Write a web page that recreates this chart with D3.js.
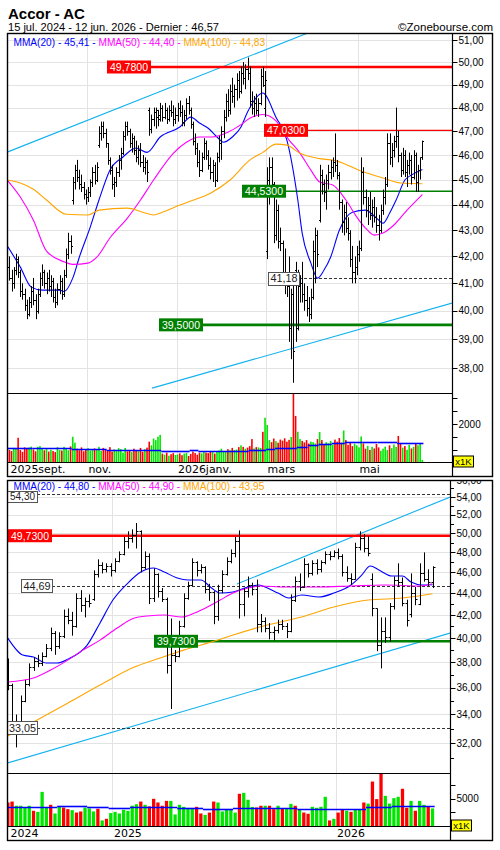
<!DOCTYPE html>
<html><head><meta charset="utf-8"><title>Accor - AC</title>
<script src="https://cdn.jsdelivr.net/npm/d3@7/dist/d3.min.js"></script>
<style>html,body{margin:0;padding:0;background:#fff}svg{display:block}</style>
</head><body>
<svg id="chart" width="500" height="850" xmlns="http://www.w3.org/2000/svg"></svg>
<script>
// ====================== DATA ======================
const title = "Accor - AC";
const subtitle = "15 jul. 2024 - 12 jun. 2026 - Dernier : 46,57";
const credit = "\u00A9Zonebourse.com";
const maNames = ["MMA(20)", "MMA(50)", "MMA(100)"];

// ---- Daily panel (top) : [open, high, low, close] ----
const dailyBars = [
[41.4,41.9,41.0,41.6],[41.6,42.0,41.1,41.2],[41.2,41.5,40.7,41.0],[41.0,41.6,40.8,41.5],[41.5,42.1,41.3,41.9],[41.9,42.0,41.2,41.4],[41.4,41.5,40.5,40.7],[40.7,41.0,40.4,40.6],[40.6,40.8,40.0,40.2],[40.2,40.4,39.7,39.9],
[39.9,40.5,39.8,40.3],[40.3,40.9,40.1,40.7],[40.7,41.2,40.2,40.4],[40.4,40.6,39.7,40.0],[40.0,40.8,39.9,40.6],[40.6,41.4,40.5,41.2],[41.2,41.7,40.9,41.4],[41.4,41.5,40.8,41.0],[41.0,41.4,40.6,41.2],[41.2,41.5,40.7,40.9],
[40.9,41.3,40.5,41.1],[41.1,41.2,40.3,40.5],[40.5,40.8,40.1,40.3],[40.3,41.0,40.2,40.8],[40.8,41.3,40.6,41.1],[41.1,41.2,40.4,40.6],[40.6,41.5,40.5,41.3],[41.3,42.3,41.2,42.1],[42.1,42.9,41.9,42.6],[42.6,42.8,42.1,42.4],
[44.2,45.1,44.0,44.9],[44.9,45.6,44.6,45.4],[45.4,45.8,44.9,45.1],[45.1,45.4,44.6,44.8],[44.8,45.2,44.5,44.7],[44.7,44.9,44.2,44.4],[44.4,44.6,44.0,44.3],[44.3,44.7,44.1,44.5],[44.5,45.0,44.3,44.9],[44.9,45.5,44.7,45.3],
[45.3,45.6,44.8,45.0],[45.0,45.7,44.9,45.5],[46.4,47.2,46.3,46.9],[46.9,47.4,46.6,47.2],[47.2,47.4,46.7,46.9],[46.9,47.1,46.3,46.5],[46.5,46.5,45.6,45.8],[45.8,45.9,45.2,45.4],[45.4,45.6,44.6,44.8],[44.8,45.1,44.3,44.9],
[44.9,45.5,44.7,45.3],[45.3,46.0,45.1,45.8],[45.8,46.3,45.4,46.1],[46.1,47.0,46.0,46.8],[46.8,47.4,46.6,47.2],[47.2,47.4,46.8,47.0],[47.0,47.1,46.3,46.5],[46.5,46.9,46.1,46.7],[46.7,46.8,46.0,46.2],[46.2,46.6,45.7,45.9],
[45.9,46.4,45.6,46.2],[46.2,46.5,45.5,45.7],[45.7,46.0,45.3,45.5],[45.5,45.9,45.2,45.7],[45.7,45.8,44.9,45.3],[47.9,48.0,46.8,47.1],[47.1,47.7,46.9,47.5],[47.5,48.0,47.2,47.8],[47.8,48.0,47.1,47.9],[47.6,47.9,47.2,47.7],
[47.5,48.2,47.4,48.0],[48.0,48.1,47.4,47.6],[47.6,48.2,47.5,47.9],[47.9,48.0,47.3,47.5],[47.5,48.1,47.4,47.9],[47.9,48.3,47.6,47.8],[47.8,48.1,47.2,47.5],[47.5,48.0,47.3,47.7],[47.7,48.2,47.4,48.0],[48.0,48.3,47.6,47.8],
[47.8,48.1,47.2,47.4],[47.4,47.9,47.2,47.7],[47.7,48.4,47.5,48.2],[48.2,48.5,47.7,47.9],[47.9,48.0,47.1,47.3],[47.3,47.4,46.4,46.6],[46.6,46.9,46.0,46.3],[46.3,46.5,45.5,45.7],[45.7,46.2,45.1,45.4],[45.4,46.1,45.3,45.9],
[45.9,46.7,45.8,46.5],[46.5,46.6,45.8,46.0],[46.0,46.2,45.4,45.6],[45.6,45.9,45.0,45.3],[45.3,45.8,44.9,45.6],[45.6,45.7,44.7,45.0],[45.0,46.1,44.9,45.9],[45.9,46.8,45.7,46.5],[46.5,47.2,45.8,47.0],[47.0,47.9,46.7,47.6],
[47.6,48.6,47.4,48.3],[48.3,48.8,47.6,47.9],[47.9,49.0,47.7,48.7],[48.7,49.3,48.2,48.5],[48.5,49.0,48.0,48.8],[48.8,49.5,48.3,49.2],[49.2,49.6,48.4,48.7],[48.7,49.8,48.6,49.5],[49.5,50.0,49.0,49.3],[49.3,49.9,48.8,49.7],
[49.7,50.2,49.2,49.5],[49.5,49.8,48.0,48.3],[48.3,48.7,47.7,48.0],[48.0,48.5,47.6,48.2],[48.2,48.6,47.7,47.9],[47.9,48.4,47.6,48.2],[48.2,49.7,48.1,49.4],[49.4,49.8,48.9,49.0],[48.0,49.6,47.6,49.2],[42.2,45.5,41.9,45.0],
[45.0,45.9,44.0,45.5],[45.5,45.9,44.6,44.8],[44.8,44.9,42.5,42.8],[42.8,44.2,42.6,43.8],[43.8,44.0,42.3,42.6],[42.6,43.1,42.2,42.5],[42.5,42.6,40.9,41.2],[41.2,42.3,40.6,41.0],[41.0,41.4,40.5,40.9],[40.9,42.0,38.9,39.4],
[39.4,40.8,38.3,40.6],[40.6,40.9,37.5,38.6],[41.5,41.8,38.9,39.4],[39.4,41.5,39.3,40.9],[40.9,41.3,40.3,41.0],[41.0,41.8,40.3,40.6],[40.6,41.0,40.0,40.4],[40.4,40.9,39.8,40.1],[40.1,40.5,39.6,39.9],[39.9,40.8,39.7,40.5],
[40.5,42.6,40.4,42.2],[42.2,43.1,41.0,42.8],[42.8,43.0,41.6,42.1],[43.4,45.6,43.3,45.2],[45.2,45.4,44.4,44.8],[44.8,45.0,44.1,44.5],[44.5,45.2,43.8,45.0],[45.0,45.6,44.6,45.3],[45.3,45.8,45.0,45.5],[45.5,45.9,45.1,45.7],
[45.7,46.9,45.3,45.6],[45.6,45.8,45.0,45.2],[45.2,45.3,43.8,44.1],[44.1,44.2,42.9,43.3],[43.3,44.0,42.8,43.7],[43.7,44.1,42.9,43.1],[43.1,43.5,42.6,42.9],[42.9,43.0,41.6,41.9],[41.9,42.4,41.0,41.4],[41.4,42.0,41.0,41.6],
[41.6,42.4,41.3,42.1],[42.1,42.6,41.8,42.3],[42.3,45.9,42.2,45.3],[45.3,45.5,44.0,44.3],[44.3,44.6,43.5,43.8],[43.8,44.3,43.2,44.0],[44.0,44.5,43.4,43.6],[43.6,44.2,43.1,43.9],[43.9,44.3,43.3,43.5],[43.5,43.9,42.9,43.2],
[43.2,43.6,42.6,43.0],[43.0,44.0,42.9,43.8],[43.8,44.6,43.6,44.3],[44.3,45.1,44.0,44.8],[44.8,46.9,44.7,46.5],[46.5,46.9,45.6,45.9],[45.9,46.5,45.5,46.2],[46.2,46.8,45.9,46.6],[46.6,48.0,46.3,46.8],[46.8,47.0,45.7,46.0],
[46.0,46.1,45.1,45.4],[45.4,46.3,45.2,46.0],[46.0,46.2,45.1,45.3],[45.3,45.8,44.7,45.6],[45.6,46.1,45.2,45.8],[45.8,46.0,44.8,45.1],[45.1,46.2,45.0,46.0],[46.0,46.1,44.5,44.9],[44.9,45.6,44.5,45.4],[45.4,45.9,45.0,45.9],[45.9,46.6,45.8,46.57]
];
// daily volume, thousands of shares
const dailyVolume = [
1120,1000,960,1080,1050,1470,1000,930,1100,1060,
1090,1130,1020,950,1120,1150,1080,990,1050,940,
1010,960,920,1110,1000,980,1120,1060,990,1140,
1510,1280,1050,990,1100,950,1020,1070,980,1010,
1060,1000,1120,960,1080,1040,990,1110,940,1020,
960,1070,1030,900,1080,950,1000,920,1050,1000,
970,1080,930,1030,1090,1320,1180,1440,1380,1510,
1580,860,820,900,780,840,880,810,830,870,
800,860,890,770,850,940,880,820,900,870,
950,900,880,960,920,860,940,980,1050,930,
960,1030,990,1080,1000,1020,1110,1180,1120,1050,
1090,1150,1420,1060,1110,1100,1080,1700,2240,1960,
1380,1300,1440,1340,1280,1400,1360,1450,1320,1390,
1500,3300,2310,1700,1420,1350,1290,1380,1250,1320,
1300,1250,1420,1690,1380,1230,1300,1260,1350,1210,
1400,1320,1460,1280,1750,1380,1200,1290,1150,1240,
1180,1100,1520,1250,1050,1160,1000,1120,1060,1230,
1100,970,1050,1130,1000,1180,1070,1210,1120,1540,
1240,1090,1150,1010,1200,1060,1120,1250,1180,1240,620
];
const dailyVolAvgStart = [0,12,30,46,71,84,88,111,119,123,133,138,143,149,155,163,170,179];
const dailyVolAvg      = [1088,1064,1038,988,975,988,950,1000,1038,1088,1127,1180,1218,1257,1295,1320,1308,1257];
const dailyMA20Idx = [0,6,11,16,24,26,30,33,38,42,47,53,59,64,70,79,84,88,92,96,99,103,107,110,117,123,128,133,135,139,142,145,148,152,158,164,169,172,175,178,182,185,190];
const dailyMA20    = [42.4,41.6,40.86,40.75,40.75,40.7,41.19,41.97,43.12,44.18,45.38,45.92,46.29,46.11,46.75,47.17,47.59,47.34,47.12,46.75,46.53,46.75,47.17,47.81,48.63,47.59,46.62,44.18,42.89,41.75,41.19,41.49,41.97,43.0,43.7,43.78,43.47,43.27,43.66,44.18,44.98,45.18,45.41];
const dailyMA50Idx = [0,6,12,18,26,30,37,41,47,55,61,67,76,82,88,94,101,107,111,117,123,129,133,139,143,149,155,160,164,168,172,177,183,190];
const dailyMA50    = [44.98,44.3,43.39,42.2,41.8,41.7,41.75,41.97,42.7,43.47,44.18,44.98,46.07,46.53,46.75,46.75,46.95,47.27,47.54,47.7,47.43,46.62,46.2,45.38,44.9,44.78,44.18,43.51,43.08,42.81,42.89,43.2,43.78,44.40];
const dailyMA100Idx = [0,6,12,18,27,37,42,55,62,67,71,79,84,93,102,111,117,123,128,134,142,151,161,172,180,190];
const dailyMA100    = [44.98,44.86,44.61,44.18,43.62,43.59,43.78,43.86,43.7,43.59,43.7,43.98,44.14,44.45,44.98,45.79,46.11,46.45,46.41,46.07,45.87,45.75,45.38,45.06,44.86,44.83];
const dailyMALast = [45.41, 44.40, 44.83];
const dailyLevels = [49.78, 47.03, 44.53, 39.50];
const dailyMarks = [41.18];
const dailyTrends = [[[0,46.12],[137,51.30]], [[66.3,37.32],[203.6,40.28]]];
const dailyPriceTicks = [38,39,40,41,42,43,44,45,46,47,48,49,50,51];
const dailyVolTicks = [1000,1500,2000,2500,3000];
const dailyVolLabel = [2000];
const dailyPeriodIdx = [0, 36.5, 77.5, 118.5, 160.5];
const dailyPeriodLabels = ["2025sept.", "nov.", "2026janv.", "mars", "mai"];

// ---- Weekly panel (bottom) : [open, high, low, close] ----
const weeklyBars = [
[37.9,38.3,35.8,36.2],[36.2,36.3,32.6,33.4],[33.4,34.0,31.7,33.5],[33.5,35.4,33.4,35.0],[35.0,36.6,34.9,36.3],[36.3,37.9,36.1,37.6],[37.6,38.4,37.3,38.1],[38.1,38.6,37.6,37.9],[37.9,38.8,37.7,38.5],[38.5,39.5,38.4,39.2],
[39.2,40.9,38.9,40.4],[40.4,40.6,38.6,39.3],[39.3,40.5,39.1,40.2],[40.2,42.5,40.0,41.9],[41.9,42.6,41.2,41.6],[41.6,42.3,40.2,41.0],[41.0,44.0,40.9,43.6],[43.6,44.3,42.3,42.9],[42.9,43.6,41.8,43.3],[43.3,43.9,42.7,43.1],
[43.5,46.2,43.3,45.8],[45.8,47.3,45.5,46.7],[46.7,47.0,45.9,46.3],[46.3,46.9,46.0,46.6],[46.6,46.9,45.6,46.2],[46.2,47.4,46.0,47.1],[47.1,48.1,47.0,47.8],[47.8,49.6,47.7,49.2],[49.2,50.2,48.4,49.5],[49.5,50.4,49.0,49.8],
[49.8,51.1,48.4,50.2],[50.2,50.3,46.0,46.5],[46.5,48.1,46.3,47.6],[47.6,47.9,43.0,43.6],[43.6,46.4,43.2,45.8],[45.8,45.9,43.6,44.2],[44.2,44.5,43.2,43.5],[43.5,43.6,37.1,37.8],[37.8,41.7,34.4,38.6],[38.6,39.0,38.0,38.5],
[38.5,41.5,38.4,41.0],[41.0,44.0,40.9,43.6],[43.6,45.1,43.4,44.8],[44.8,47.4,44.7,47.0],[47.0,47.1,45.6,46.2],[46.2,46.8,45.9,46.5],[46.5,46.6,44.0,44.4],[44.4,44.9,43.3,44.1],[44.1,44.2,41.2,41.9],[41.9,44.8,41.5,44.3],
[44.3,46.2,44.0,45.8],[45.8,47.5,45.7,47.1],[47.1,48.3,46.9,47.9],[47.9,49.6,47.5,49.2],[49.2,50.3,41.7,43.0],[43.0,44.5,41.9,44.2],[44.2,45.6,43.6,44.8],[44.8,45.0,43.8,44.4],[44.4,45.3,40.5,41.2],[41.2,42.1,40.5,41.5],
[41.5,41.8,40.5,40.9],[40.9,41.3,39.9,40.5],[40.5,41.0,39.8,40.7],[40.7,41.6,40.4,41.2],[41.2,41.6,40.7,41.0],[41.0,41.3,40.0,40.6],[40.6,43.9,40.5,43.4],[43.4,45.6,43.2,45.2],[45.2,45.9,44.2,44.6],[44.6,47.4,44.5,46.8],
[46.8,46.9,45.5,45.9],[45.9,47.2,45.7,46.9],[46.9,47.3,45.8,46.3],[46.3,47.2,46.0,47.0],[47.0,48.1,46.8,47.8],[47.8,48.1,47.2,47.6],[47.6,48.2,47.5,48.0],[48.0,48.4,47.3,47.6],[47.6,47.8,45.6,46.0],[46.0,46.6,45.1,45.5],
[45.5,45.9,44.8,45.4],[45.4,49.0,45.3,48.6],[48.6,50.2,48.2,49.5],[49.5,49.9,48.0,48.4],[48.4,49.7,47.6,47.9],[45.4,45.9,41.9,42.6],[42.6,42.6,38.9,39.4],[39.4,41.8,37.5,40.6],[40.6,41.8,39.6,40.1],[40.1,43.1,39.7,42.8],
[42.8,45.6,42.5,45.3],[45.3,46.9,44.6,45.1],[45.1,45.5,42.8,43.1],[43.1,43.4,41.0,41.6],[42.1,45.9,41.8,44.0],[44.0,44.6,42.9,43.5],[43.0,46.9,42.9,45.9],[45.9,48.0,45.1,45.4],[45.4,46.3,44.7,45.1],[45.1,46.6,44.5,46.57]
];
const weeklyVolume = [
4730,4800,4490,4490,4360,4490,4120,4040,5510,4360,4560,3920,4440,4360,4240,4170,3990,4070,4360,4290,
4070,4270,3410,3530,3950,4040,3920,4190,4120,4490,4600,4800,4560,4440,5000,4730,4490,4850,4850,3850,
4560,4410,4290,4320,4410,3920,3820,3990,4800,4730,4070,4240,4240,3990,5370,5440,4930,4400,4360,4490,
4490,4490,4240,4490,4290,4290,4630,4490,4200,3990,3900,4410,4340,4410,5150,3410,3530,3990,4220,4120,
4040,4240,4240,4730,4650,6270,4980,6840,5220,4650,5050,5150,5740,4340,4850,4120,4850,4560,4440,4290
];
// 1 = up week, 0 = down week
const weeklyUp = [
0,0,1,1,1,1,0,1,1,1,0,1,1,0,0,1,0,0,1,1,1,0,1,0,1,1,1,1,1,1,
1,
0,1,0,0,0,0,0,1,1,1,1,1,1,0,0,1,0,0,1,1,1,1,1,0,1,1,
1,
0,0,1,0,0,1,0,1,1,0,1,0,0,1,1,1,1,0,1,0,0,1,0,1,1,0,1,0,0,0,1,1,1,1,0,0,1,0,1,1,0,1
];
const weeklyVolAvgStart = [0,12,19,24,29,40,46,53,68,84,90];
const weeklyVolAvg      = [4412,4461,4412,4338,4387,4314,4240,4314,4240,4363,4461];
const weeklyMA20Idx = [0,3.5,6,9,11.5,14,18.5,21.5,24.5,28,31,34,36.5,39.5,42,45,47.5,49.5,52.5,56,58.5,60.5,63,65.5,68.5,72.5,76,80,82.5,84.5,86.5,89.5,92,94,96.5,99];
const weeklyMA20    = [40.0,38.58,38.42,37.93,37.93,38.25,39.41,41.31,43.37,44.97,46.03,46.43,46.03,45.45,45.26,45.26,44.5,44.02,44.12,44.59,44.78,44.5,44.02,43.56,43.84,43.65,44.02,44.78,45.74,46.63,46.24,45.65,45.65,45.06,44.78,44.80];
const weeklyMA50Idx = [0,6,10,14,17.5,21.5,25.5,29.5,32.5,36.5,40.5,43.5,46.5,49.5,52.5,56,59,64.5,72.5,80,88,96,99];
const weeklyMA50    = [36.43,36.74,37.37,38.17,38.99,39.83,40.87,41.75,41.92,42.01,41.84,42.19,42.73,43.37,44.02,44.5,44.69,44.59,44.59,44.69,44.78,44.69,44.90];
const weeklyMA100Idx = [0,6,14,21.5,29.5,35.5,41,49,52.5,60.5,68.5,76,84,92,99];
const weeklyMA100    = [32.48,33.46,34.84,36.2,37.61,38.34,38.99,39.83,40.26,41.13,41.84,42.73,43.37,43.56,43.95];
const weeklyMALast = [44.80, 44.90, 43.95];
const weeklyLevels = [49.73, 39.73];
const weeklyMarks = [54.30, 44.69, 33.05];
const weeklyTrends = [[[53.4,44.87],[103.1,54.0]], [[-0.2,30.66],[103.1,40.43]]];
const weeklyPriceTicks = [32,34,36,38,40,42,44,46,48,50,52,54,56];
const weeklyMinorTicks = [31,33,35,37,39,41,43,45,47,49,51,53,55];
const weeklyVolTicks = [4000,5000,6000];
const weeklyVolLabel = [5000];
const weeklyPeriodIdx = [0, 24.4, 76.4];
const weeklyPeriodLabels = ["2024", "2025", "2026"];

// ====================== DRAWING ======================
const svg = d3.select("#chart");
const defs = svg.append("defs");
const FS = "'Liberation Sans', Arial, Helvetica, sans-serif";
const FV = "'DejaVu Sans', Verdana, sans-serif";
const comma = (v, d) => v.toFixed(d).replace(".", ",");
const MA_COLORS = ["#0000ff", "#ff00ff", "#ffa500"];
const GRID = "#e3e3e3";
const CYAN = "#12b2ee";

// scale a text's font-size so that its rendered width matches the reference width
function fitWidth(sel, target) {
  const node = sel.node();
  const w = node.getComputedTextLength();
  if (w > 0) {
    const fs = parseFloat(sel.attr("font-size"));
    sel.attr("font-size", (fs * target / w).toFixed(2));
  }
  return parseFloat(sel.attr("font-size"));
}

svg.append("rect").attr("width", 500).attr("height", 850).attr("fill", "#fff");
const tTitle = svg.append("text").attr("x", 8).attr("y", 18.5).attr("font-family", FS).attr("font-weight", "bold")
  .attr("font-size", 15.5).attr("fill", "#000").text(title);
fitWidth(tTitle, 77);
const tSub = svg.append("text").attr("x", 8).attr("y", 30.5).attr("font-family", FS).attr("font-size", 11).attr("fill", "#000").text(subtitle);
fitWidth(tSub, 211);
const tCred = svg.append("text").attr("x", 493).attr("y", 30.5).attr("text-anchor", "end").attr("font-family", FS).attr("font-size", 11).attr("fill", "#000").text(credit);
fitWidth(tCred, 95);

// reference-measured text sizes (computed once)
const probe = svg.append("text").attr("font-family", FS).attr("font-size", 10).text("51,00");
const AXIS_FS = fitWidth(probe, 25);
probe.attr("font-size", 10.5).text("49,7800");
const LVL_FS = fitWidth(probe, 38);
probe.attr("font-size", 11).text("41,18");
const MARK_FS = fitWidth(probe, 27);
probe.attr("font-family", FV).attr("font-size", 11).text("2025sept.");
const DATE_FS = fitWidth(probe, 55);
probe.remove();

function drawPanel(P) {
  const g = svg.append("g");
  const x = d3.scaleLinear().domain(P.xDomain).range(P.xRange);
  const y = d3.scaleLog().domain(P.yDomain).range(P.yRange);
  const yv = d3.scaleLinear().domain(P.vDomain).range([P.volBottom, P.vTopY]);
  const cp = (name, x0, y0, x1, y1) => {
    const id = P.id + name;
    defs.append("clipPath").attr("id", id).append("rect").attr("x", x0).attr("y", y0).attr("width", x1 - x0).attr("height", y1 - y0);
    return "url(#" + id + ")";
  };
  const clipP = cp("p", P.left, P.top, P.axisX, P.priceBottom);
  const clipV = cp("v", P.left, P.priceBottom, P.axisX, P.volBottom);
  const clipA = cp("a", P.axisX, P.top, P.right, P.priceBottom);
  const px = v => Math.round(v) + 0.5;

  // vertical grid (period boundaries)
  g.append("g").selectAll("line").data(P.periodIdx.slice(1)).join("line")
    .attr("x1", d => px(x(d))).attr("x2", d => px(x(d))).attr("y1", P.top).attr("y2", P.volBottom)
    .attr("stroke", GRID).attr("stroke-width", 1);

  const gp = g.append("g").attr("clip-path", clipP);
  // horizontal grid
  gp.selectAll("line.hg").data(P.gridTicks).join("line").attr("class", "hg")
    .attr("x1", P.left).attr("x2", P.axisX).attr("y1", d => px(y(d))).attr("y2", d => px(y(d)))
    .attr("stroke", GRID).attr("stroke-width", 1);

  // trend channels
  gp.selectAll("line.tr").data(P.trends).join("line").attr("class", "tr")
    .attr("x1", d => x(d[0][0])).attr("y1", d => y(d[0][1])).attr("x2", d => x(d[1][0])).attr("y2", d => y(d[1][1]))
    .attr("stroke", CYAN).attr("stroke-width", 1.1);

  // dashed marks
  P.marks.forEach((m, i) => {
    const s = P.markStyle[i];
    gp.append("line").attr("x1", s.x + s.w).attr("x2", P.axisX).attr("y1", px(y(m))).attr("y2", px(y(m)))
      .attr("stroke", "#333").attr("stroke-width", 1).attr("stroke-dasharray", "3,2");
  });

  // support / resistance levels
  P.levels.forEach((lv, i) => {
    const s = P.levelStyle[i];
    gp.append("line").attr("x1", s.x + 44).attr("x2", P.axisX).attr("y1", y(lv)).attr("y2", y(lv))
      .attr("stroke", s.color).attr("stroke-width", s.w);
  });

  // moving averages
  const line = d3.line().x(d => x(d[0])).y(d => y(d[1])).curve(d3.curveMonotoneX);
  P.mas.forEach((m, i) => {
    gp.append("path").attr("d", line(d3.zip(m[0], m[1]))).attr("fill", "none")
      .attr("stroke", MA_COLORS[i]).attr("stroke-width", 1.1);
  });

  // OHLC bars
  const t = P.tick;
  gp.append("path").attr("fill", "none").attr("stroke", "#000").attr("stroke-width", 1)
    .attr("d", P.bars.map((b, i) => {
      const cx = px(x(i));
      return "M" + cx + "," + y(b[1]).toFixed(1) + "V" + y(b[2]).toFixed(1) +
        "M" + (cx - t - 0.5) + "," + px(y(b[0])) + "H" + cx +
        "M" + cx + "," + px(y(b[3])) + "H" + (cx + t + 0.5);
    }).join(""));

  // volume
  const gv = g.append("g").attr("clip-path", clipV);
  gv.selectAll("rect").data(P.volume).join("rect")
    .attr("x", (d, i) => x(i) - P.volW / 2).attr("width", P.volW)
    .attr("y", d => yv(d)).attr("height", d => Math.max(0, P.volBottom - yv(d)))
    .attr("fill", (d, i) => P.volUp(i) ? "#00e600" : "#ff0000");
  const last = P.bars.length - 1;
  P.volAvgStart.forEach((s, j) => {
    const e = j < P.volAvgStart.length - 1 ? P.volAvgStart[j + 1] : last + 1;
    gv.append("line").attr("x1", x(s - 0.5)).attr("x2", x(e - 0.5))
      .attr("y1", px(yv(P.volAvg[j]))).attr("y2", px(yv(P.volAvg[j])))
      .attr("stroke", "#0000ff").attr("stroke-width", 1.6);
  });

  // level labels
  P.levels.forEach((lv, i) => {
    const s = P.levelStyle[i], yc = y(lv);
    g.append("rect").attr("x", s.x).attr("y", yc - 6.5).attr("width", 44).attr("height", 13).attr("fill", s.color);
    g.append("text").attr("x", s.x + 22).attr("y", yc + 3.8).attr("text-anchor", "middle")
      .attr("font-family", FS).attr("font-size", LVL_FS).attr("fill", "#fff").text(comma(lv, 4));
  });
  P.marks.forEach((m, i) => {
    const s = P.markStyle[i], yc = y(m) + (s.dy || 0);
    const h = s.h || 13;
    g.append("rect").attr("x", s.x + 0.5).attr("y", Math.round(yc - h / 2) + 0.5).attr("width", s.w).attr("height", h)
      .attr("fill", "#fff").attr("stroke", "#555").attr("stroke-width", 1);
    g.append("text").attr("x", s.x + 0.5 + s.w / 2).attr("y", yc + 4).attr("text-anchor", "middle")
      .attr("font-family", FS).attr("font-size", (s.fs || 1) * MARK_FS).attr("fill", "#222").text(comma(m, 2));
  });

  // legend
  const lg = g.append("text").attr("x", P.left + 6.5).attr("y", P.legendY).attr("font-family", FS)
    .attr("font-size", 10).style("white-space", "pre");
  maNames.forEach((n, i) => {
    lg.append("tspan").attr("fill", MA_COLORS[i])
      .text(n + " - " + comma(P.maLast[i], 2) + (i < maNames.length - 1 ? " - " : ""));
  });
  fitWidth(lg, P.legendW);

  // frame
  const fr = g.append("g").attr("stroke", "#000").attr("fill", "none");
  fr.append("rect").attr("x", P.left + 0.5).attr("y", P.top + 0.5).attr("width", P.right - P.left - 1).attr("height", P.bottom - P.top - 1).attr("stroke-width", 1.4);
  fr.append("line").attr("x1", px(P.axisX)).attr("x2", px(P.axisX)).attr("y1", P.top).attr("y2", P.bottom).attr("stroke-width", 1.2);
  fr.append("line").attr("x1", P.left).attr("x2", P.axisX).attr("y1", px(P.priceBottom)).attr("y2", px(P.priceBottom)).attr("stroke-width", 1.2);
  fr.append("line").attr("x1", P.left).attr("x2", P.axisX).attr("y1", px(P.volBottom)).attr("y2", px(P.volBottom)).attr("stroke-width", 1.2);

  // price axis
  const ga = g.append("g").attr("clip-path", clipA);
  ga.selectAll("line.mj").data(P.priceTicks).join("line").attr("class", "mj")
    .attr("x1", P.axisX).attr("x2", P.axisX + 5.5).attr("y1", d => px(y(d))).attr("y2", d => px(y(d)))
    .attr("stroke", "#000").attr("stroke-width", 1);
  ga.selectAll("line.mn").data(P.minorTicks).join("line").attr("class", "mn")
    .attr("x1", P.axisX).attr("x2", P.axisX + 4).attr("y1", d => px(y(d))).attr("y2", d => px(y(d)))
    .attr("stroke", "#000").attr("stroke-width", 1);
  ga.selectAll("text").data(P.priceTicks).join("text")
    .attr("x", P.axisX + 6.5).attr("y", d => y(d) + 3.6).attr("font-family", FS).attr("font-size", AXIS_FS)
    .attr("fill", "#000").text(d => comma(d, 2));

  // volume axis
  g.selectAll("line.vt").data(P.volTicks).join("line").attr("class", "vt")
    .attr("x1", P.axisX).attr("x2", P.axisX + 5.5).attr("y1", d => px(yv(d))).attr("y2", d => px(yv(d)))
    .attr("stroke", "#000").attr("stroke-width", 1);
  g.selectAll("text.vl").data(P.volLabel).join("text").attr("class", "vl")
    .attr("x", P.axisX + 6.5).attr("y", d => yv(d) + 3.6).attr("font-family", FS).attr("font-size", AXIS_FS).text(d => d);
  g.append("rect").attr("x", P.axisX + 1.5).attr("y", P.volBottom - 6).attr("width", 20).attr("height", 11)
    .attr("fill", "#ffff00").attr("stroke", "#000").attr("stroke-width", 1);
  g.append("text").attr("x", P.axisX + 11.5).attr("y", P.volBottom + 3).attr("text-anchor", "middle")
    .attr("font-family", FS).attr("font-size", AXIS_FS * 0.95).text("x1K");

  // period labels
  g.selectAll("text.pl").data(P.periodIdx).join("text").attr("class", "pl")
    .attr("x", (d, i) => i === 0 ? P.left + 3.5 : x(d) + 1.5).attr("y", P.bottom - 4.5)
    .attr("font-family", FV).attr("font-size", DATE_FS).attr("fill", "#000")
    .text((d, i) => P.periodLabels[i]);
}

drawPanel({
  id: "daily", left: 7, right: 493, axisX: 452, top: 33, priceBottom: 393, volBottom: 462, bottom: 477,
  xDomain: [0, 190], xRange: [7.2, 422.35],
  yDomain: [38, 51], yRange: [368, 40],
  vDomain: [538, 3192], vTopY: 393,
  bars: dailyBars, volume: dailyVolume, volUp: i => dailyBars[i][3] >= dailyBars[i][0],
  volAvgStart: dailyVolAvgStart, volAvg: dailyVolAvg,
  mas: [[dailyMA20Idx, dailyMA20], [dailyMA50Idx, dailyMA50], [dailyMA100Idx, dailyMA100]],
  maLast: dailyMALast, legendY: 46, legendW: 252,
  levels: dailyLevels,
  levelStyle: [{x: 107, color: "#ff0000", w: 2.6}, {x: 264, color: "#ff0000", w: 1.3},
               {x: 242, color: "#008000", w: 1.3}, {x: 159, color: "#008000", w: 2.6}],
  marks: dailyMarks, markStyle: [{x: 268, w: 31}],
  trends: dailyTrends,
  gridTicks: dailyPriceTicks, priceTicks: dailyPriceTicks, minorTicks: [],
  volTicks: dailyVolTicks, volLabel: dailyVolLabel,
  periodIdx: dailyPeriodIdx, periodLabels: dailyPeriodLabels,
  tick: 1, volW: 1.6
});

drawPanel({
  id: "weekly", left: 7, right: 493, axisX: 450, top: 480, priceBottom: 773, volBottom: 826, bottom: 841,
  xDomain: [0, 99], xRange: [7.8, 432.5],
  yDomain: [32, 54], yRange: [743, 497],
  vDomain: [3000, 6900], vTopY: 773,
  bars: weeklyBars, volume: weeklyVolume, volUp: i => weeklyUp[i] === 1,
  volAvgStart: weeklyVolAvgStart, volAvg: weeklyVolAvg,
  mas: [[weeklyMA20Idx, weeklyMA20], [weeklyMA50Idx, weeklyMA50], [weeklyMA100Idx, weeklyMA100]],
  maLast: weeklyMALast, legendY: 489.5, legendW: 251,
  levels: weeklyLevels,
  levelStyle: [{x: 8, color: "#ff0000", w: 2.6}, {x: 154, color: "#008000", w: 2.6}],
  marks: weeklyMarks, markStyle: [{x: 7, w: 30, dy: 1.8, h: 11, fs: 0.93}, {x: 21, w: 31}, {x: 7, w: 30}],
  trends: weeklyTrends,
  gridTicks: weeklyPriceTicks, priceTicks: weeklyPriceTicks, minorTicks: weeklyMinorTicks,
  volTicks: weeklyVolTicks, volLabel: weeklyVolLabel,
  periodIdx: weeklyPeriodIdx, periodLabels: weeklyPeriodLabels,
  tick: 1.5, volW: 3.3
});
</script>
</body></html>
